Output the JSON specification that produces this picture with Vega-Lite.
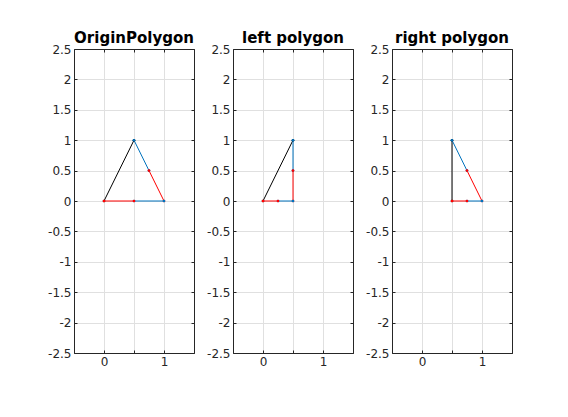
{
  "$schema": "https://vega.github.io/schema/vega-lite/v6.json",
  "background": "white",
  "padding": {"left": 47, "top": 30, "right": 5, "bottom": 5},
  "bounds": "flush",
  "spacing": 39,
  "data": {
    "values": [
      {"p": "origin", "seg": 1, "c": "k", "o": 0, "x": 0, "y": 0},
      {"p": "origin", "seg": 1, "c": "k", "o": 1, "x": 0.5, "y": 1},
      {"p": "origin", "seg": 2, "c": "b", "o": 0, "x": 0.5, "y": 0},
      {"p": "origin", "seg": 2, "c": "b", "o": 1, "x": 1, "y": 0},
      {"p": "origin", "seg": 3, "c": "b", "o": 0, "x": 0.75, "y": 0.5},
      {"p": "origin", "seg": 3, "c": "b", "o": 1, "x": 0.5, "y": 1},
      {"p": "origin", "seg": 4, "c": "r", "o": 0, "x": 0, "y": 0},
      {"p": "origin", "seg": 4, "c": "r", "o": 1, "x": 0.5, "y": 0},
      {"p": "origin", "seg": 5, "c": "r", "o": 0, "x": 1, "y": 0},
      {"p": "origin", "seg": 5, "c": "r", "o": 1, "x": 0.75, "y": 0.5},
      {"p": "left", "seg": 1, "c": "k", "o": 0, "x": 0, "y": 0},
      {"p": "left", "seg": 1, "c": "k", "o": 1, "x": 0.5, "y": 1},
      {"p": "left", "seg": 2, "c": "b", "o": 0, "x": 0.25, "y": 0},
      {"p": "left", "seg": 2, "c": "b", "o": 1, "x": 0.5, "y": 0},
      {"p": "left", "seg": 3, "c": "b", "o": 0, "x": 0.5, "y": 0.5},
      {"p": "left", "seg": 3, "c": "b", "o": 1, "x": 0.5, "y": 1},
      {"p": "left", "seg": 4, "c": "r", "o": 0, "x": 0, "y": 0},
      {"p": "left", "seg": 4, "c": "r", "o": 1, "x": 0.25, "y": 0},
      {"p": "left", "seg": 5, "c": "r", "o": 0, "x": 0.5, "y": 0},
      {"p": "left", "seg": 5, "c": "r", "o": 1, "x": 0.5, "y": 0.5},
      {"p": "right", "seg": 1, "c": "k", "o": 0, "x": 0.5, "y": 0},
      {"p": "right", "seg": 1, "c": "k", "o": 1, "x": 0.5, "y": 1},
      {"p": "right", "seg": 2, "c": "b", "o": 0, "x": 0.75, "y": 0},
      {"p": "right", "seg": 2, "c": "b", "o": 1, "x": 1, "y": 0},
      {"p": "right", "seg": 3, "c": "b", "o": 0, "x": 0.75, "y": 0.5},
      {"p": "right", "seg": 3, "c": "b", "o": 1, "x": 0.5, "y": 1},
      {"p": "right", "seg": 4, "c": "r", "o": 0, "x": 0.5, "y": 0},
      {"p": "right", "seg": 4, "c": "r", "o": 1, "x": 0.75, "y": 0},
      {"p": "right", "seg": 5, "c": "r", "o": 0, "x": 1, "y": 0},
      {"p": "right", "seg": 5, "c": "r", "o": 1, "x": 0.75, "y": 0.5}
    ]
  },
  "hconcat": [
    {
      "title": "OriginPolygon",
      "width": 120,
      "height": 304,
      "transform": [{"filter": "datum.p == 'origin'"}],
      "layer": [
        {
          "mark": {"type": "line", "strokeWidth": 1, "point": {"filled": true, "size": 7}},
          "encoding": {
            "x": {"field": "x", "type": "quantitative", "scale": {"domain": [-0.5, 1.5], "nice": false, "zero": false}, "axis": {"title": null, "values": [0, 0.5, 1], "labelExpr": "datum.value == 0.5 ? '' : toString(datum.value)"}},
            "y": {"field": "y", "type": "quantitative", "scale": {"domain": [-2.5, 2.5], "nice": false, "zero": false}, "axis": {"title": null, "values": [-2.5, -2, -1.5, -1, -0.5, 0, 0.5, 1, 1.5, 2, 2.5], "labelExpr": "toString(datum.value)"}},
            "color": {"field": "c", "type": "nominal", "scale": {"domain": ["k", "r", "b"], "range": ["#000000", "#ff0000", "#0072bd"]}, "legend": null},
            "detail": {"field": "seg"},
            "order": {"field": "o"}
          }
        },
        {
          "mark": {"type": "point", "opacity": 0},
          "encoding": {
            "x": {"field": "x", "type": "quantitative", "scale": {"domain": [-0.5, 1.5], "nice": false, "zero": false}, "axis": {"title": null, "orient": "top", "labels": false, "grid": false, "values": [0, 0.5, 1]}},
            "y": {"field": "y", "type": "quantitative", "scale": {"domain": [-2.5, 2.5], "nice": false, "zero": false}, "axis": {"title": null, "orient": "right", "labels": false, "grid": false, "values": [-2.5, -2, -1.5, -1, -0.5, 0, 0.5, 1, 1.5, 2, 2.5]}}
          }
        }
      ],
      "resolve": {"axis": {"x": "independent", "y": "independent"}}
    },
    {
      "title": "left polygon",
      "width": 120,
      "height": 304,
      "transform": [{"filter": "datum.p == 'left'"}],
      "layer": [
        {
          "mark": {"type": "line", "strokeWidth": 1, "point": {"filled": true, "size": 7}},
          "encoding": {
            "x": {"field": "x", "type": "quantitative", "scale": {"domain": [-0.5, 1.5], "nice": false, "zero": false}, "axis": {"title": null, "values": [0, 0.5, 1], "labelExpr": "datum.value == 0.5 ? '' : toString(datum.value)"}},
            "y": {"field": "y", "type": "quantitative", "scale": {"domain": [-2.5, 2.5], "nice": false, "zero": false}, "axis": {"title": null, "values": [-2.5, -2, -1.5, -1, -0.5, 0, 0.5, 1, 1.5, 2, 2.5], "labelExpr": "toString(datum.value)"}},
            "color": {"field": "c", "type": "nominal", "scale": {"domain": ["k", "r", "b"], "range": ["#000000", "#ff0000", "#0072bd"]}, "legend": null},
            "detail": {"field": "seg"},
            "order": {"field": "o"}
          }
        },
        {
          "mark": {"type": "point", "opacity": 0},
          "encoding": {
            "x": {"field": "x", "type": "quantitative", "scale": {"domain": [-0.5, 1.5], "nice": false, "zero": false}, "axis": {"title": null, "orient": "top", "labels": false, "grid": false, "values": [0, 0.5, 1]}},
            "y": {"field": "y", "type": "quantitative", "scale": {"domain": [-2.5, 2.5], "nice": false, "zero": false}, "axis": {"title": null, "orient": "right", "labels": false, "grid": false, "values": [-2.5, -2, -1.5, -1, -0.5, 0, 0.5, 1, 1.5, 2, 2.5]}}
          }
        }
      ],
      "resolve": {"axis": {"x": "independent", "y": "independent"}}
    },
    {
      "title": "right polygon",
      "width": 120,
      "height": 304,
      "transform": [{"filter": "datum.p == 'right'"}],
      "layer": [
        {
          "mark": {"type": "line", "strokeWidth": 1, "point": {"filled": true, "size": 7}},
          "encoding": {
            "x": {"field": "x", "type": "quantitative", "scale": {"domain": [-0.5, 1.5], "nice": false, "zero": false}, "axis": {"title": null, "values": [0, 0.5, 1], "labelExpr": "datum.value == 0.5 ? '' : toString(datum.value)"}},
            "y": {"field": "y", "type": "quantitative", "scale": {"domain": [-2.5, 2.5], "nice": false, "zero": false}, "axis": {"title": null, "values": [-2.5, -2, -1.5, -1, -0.5, 0, 0.5, 1, 1.5, 2, 2.5], "labelExpr": "toString(datum.value)"}},
            "color": {"field": "c", "type": "nominal", "scale": {"domain": ["k", "r", "b"], "range": ["#000000", "#ff0000", "#0072bd"]}, "legend": null},
            "detail": {"field": "seg"},
            "order": {"field": "o"}
          }
        },
        {
          "mark": {"type": "point", "opacity": 0},
          "encoding": {
            "x": {"field": "x", "type": "quantitative", "scale": {"domain": [-0.5, 1.5], "nice": false, "zero": false}, "axis": {"title": null, "orient": "top", "labels": false, "grid": false, "values": [0, 0.5, 1]}},
            "y": {"field": "y", "type": "quantitative", "scale": {"domain": [-2.5, 2.5], "nice": false, "zero": false}, "axis": {"title": null, "orient": "right", "labels": false, "grid": false, "values": [-2.5, -2, -1.5, -1, -0.5, 0, 0.5, 1, 1.5, 2, 2.5]}}
          }
        }
      ],
      "resolve": {"axis": {"x": "independent", "y": "independent"}}
    }
  ],
  "config": {
    "view": {"stroke": "#262626", "strokeWidth": 1},
    "axis": {
      "domainColor": "#262626",
      "domainWidth": 1,
      "tickColor": "#262626",
      "tickSize": -3,
      "labelColor": "#262626",
      "labelFont": "DejaVu Sans",
      "labelFontSize": 12,
      "labelPadding": 6,
      "gridColor": "#e0e0e0",
      "gridWidth": 1
    },
    "title": {"font": "DejaVu Sans", "fontSize": 15, "fontWeight": "bold", "color": "#000000", "offset": -3, "anchor": "middle"}
  }
}
